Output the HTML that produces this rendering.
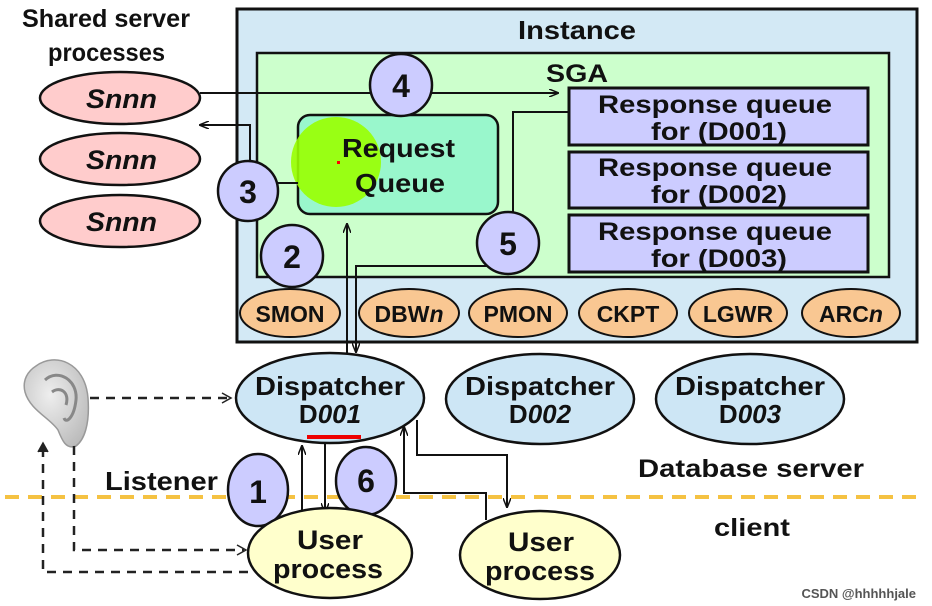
<!DOCTYPE html>
<html><head><meta charset="utf-8"><style>
html,body{margin:0;padding:0;background:#fff}
svg{display:block}
text{font-family:"Liberation Sans",Arial,sans-serif;font-weight:bold;fill:#111}
</style></head><body>
<svg width="932" height="606" viewBox="0 0 932 606" xmlns="http://www.w3.org/2000/svg">
<defs>
<marker id="a" markerWidth="10" markerHeight="8" refX="9" refY="4" orient="auto" markerUnits="userSpaceOnUse"><path d="M0,0 L10,4 L0,8" fill="none" stroke="#111" stroke-width="1.5"/></marker>
<radialGradient id="eg" cx="0.4" cy="0.4" r="0.7"><stop offset="0" stop-color="#eee"/><stop offset="1" stop-color="#bbb"/></radialGradient>
</defs>
<rect x="0" y="0" width="932" height="606" fill="#fff"/>
<!-- Instance -->
<rect x="237" y="9" width="680" height="333" fill="#d3e9f5" stroke="#111" stroke-width="3"/>
<text x="518" y="39" font-size="26" textLength="118" lengthAdjust="spacingAndGlyphs">Instance</text>
<rect x="257" y="53" width="632" height="224" fill="#ccffcc" stroke="#111" stroke-width="2.5"/>
<text x="546" y="82" font-size="25" textLength="62" lengthAdjust="spacingAndGlyphs">SGA</text>
<!-- response queues -->
<g font-size="25">
<rect x="569" y="88" width="299" height="57" fill="#ccccff" stroke="#111" stroke-width="3"/>
<text x="598" y="113" textLength="234" lengthAdjust="spacingAndGlyphs">Response queue</text><text x="651" y="140" textLength="136" lengthAdjust="spacingAndGlyphs">for (D001)</text>
<rect x="569" y="152" width="299" height="56" fill="#ccccff" stroke="#111" stroke-width="3"/>
<text x="598" y="176" textLength="234" lengthAdjust="spacingAndGlyphs">Response queue</text><text x="651" y="203" textLength="136" lengthAdjust="spacingAndGlyphs">for (D002)</text>
<rect x="569" y="215" width="299" height="57" fill="#ccccff" stroke="#111" stroke-width="3"/>
<text x="598" y="240" textLength="234" lengthAdjust="spacingAndGlyphs">Response queue</text><text x="651" y="267" textLength="136" lengthAdjust="spacingAndGlyphs">for (D003)</text>
</g>
<!-- request queue -->
<rect x="298" y="115" width="200" height="99" rx="12" fill="#99f7cc" stroke="#111" stroke-width="2.5"/>
<circle cx="336" cy="162" r="45" fill="#99ff00" opacity="0.9"/>
<rect x="337" y="161" width="3" height="3" fill="red"/>
<text x="342" y="157" font-size="26" textLength="113" lengthAdjust="spacingAndGlyphs">Request</text>
<text x="355" y="192" font-size="26" textLength="90" lengthAdjust="spacingAndGlyphs">Queue</text>
<!-- lines -->
<g stroke="#111" stroke-width="2" fill="none">
<path d="M200,93 H558" marker-end="url(#a)"/>
<path d="M250,162 V125 H200" marker-end="url(#a)"/>
<path d="M278,183 H298"/>
<path d="M569,112 H513 V215"/>
<path d="M508,266 H356 V352" marker-end="url(#a)"/>
<path d="M347,355 V224" marker-end="url(#a)"/>
</g>
<!-- dashed separator -->
<line x1="5" y1="497" x2="925" y2="497" stroke="#f5c242" stroke-width="4" stroke-dasharray="14,9"/>
<g stroke="#111" stroke-width="2" fill="none">
<path d="M302,512 V446" marker-end="url(#a)"/>
<path d="M325,443 V512" marker-end="url(#a)"/>
<path d="M486,520 V493 H404 V427" marker-end="url(#a)"/>
<path d="M417,420 V455 H507 V507" marker-end="url(#a)"/>
</g>
<!-- number circles -->
<g fill="#ccccff" stroke="#111" stroke-width="2.5">
<circle cx="401" cy="85" r="31"/>
<circle cx="248" cy="191" r="30"/>
<circle cx="292" cy="256" r="31"/>
<circle cx="508" cy="243" r="31"/>
<ellipse cx="258" cy="490" rx="30" ry="36"/>
<ellipse cx="366" cy="481" rx="30" ry="34"/>
</g>
<g font-size="32" text-anchor="middle">
<text x="401" y="97">4</text><text x="248" y="203">3</text><text x="292" y="268">2</text>
<text x="508" y="255">5</text><text x="258" y="503">1</text><text x="366" y="492">6</text>
</g>
<!-- background procs -->
<g fill="#f9c792" stroke="#111" stroke-width="2">
<ellipse cx="290" cy="313" rx="50" ry="24"/>
<ellipse cx="409" cy="313" rx="50" ry="24"/>
<ellipse cx="518" cy="313" rx="49" ry="24"/>
<ellipse cx="628" cy="313" rx="49" ry="24"/>
<ellipse cx="738" cy="313" rx="49" ry="24"/>
<ellipse cx="851" cy="313" rx="49" ry="24"/>
</g>
<g font-size="23" text-anchor="middle">
<text x="290" y="322">SMON</text>
<text x="409" y="322">DBW<tspan font-style="italic">n</tspan></text>
<text x="518" y="322">PMON</text><text x="628" y="322">CKPT</text><text x="738" y="322">LGWR</text>
<text x="851" y="322">ARC<tspan font-style="italic">n</tspan></text>
</g>
<!-- Snnn -->
<text x="22" y="27" font-size="25" textLength="168" lengthAdjust="spacingAndGlyphs">Shared server</text>
<text x="48" y="61" font-size="25" textLength="117" lengthAdjust="spacingAndGlyphs">processes</text>
<g fill="#ffcccc" stroke="#111" stroke-width="2.5">
<ellipse cx="120" cy="98" rx="80" ry="26"/>
<ellipse cx="120" cy="159" rx="80" ry="26"/>
<ellipse cx="120" cy="221" rx="80" ry="26"/>
</g>
<g font-size="27" font-style="italic">
<text x="86" y="108" textLength="71" lengthAdjust="spacingAndGlyphs">Snnn</text>
<text x="86" y="169" textLength="71" lengthAdjust="spacingAndGlyphs">Snnn</text>
<text x="86" y="231" textLength="71" lengthAdjust="spacingAndGlyphs">Snnn</text>
</g>
<!-- dispatchers -->
<g fill="#cde6f5" stroke="#111" stroke-width="2.5">
<ellipse cx="330" cy="398" rx="94" ry="45"/>
<ellipse cx="540" cy="399" rx="94" ry="45"/>
<ellipse cx="750" cy="399" rx="94" ry="45"/>
</g>
<g font-size="26">
<text x="255" y="395" textLength="150" lengthAdjust="spacingAndGlyphs">Dispatcher</text>
<text x="465" y="395" textLength="150" lengthAdjust="spacingAndGlyphs">Dispatcher</text>
<text x="675" y="395" textLength="150" lengthAdjust="spacingAndGlyphs">Dispatcher</text>
</g>
<g font-size="26" text-anchor="middle">
<text x="330" y="423">D<tspan font-style="italic">001</tspan></text>
<text x="540" y="423">D<tspan font-style="italic">002</tspan></text>
<text x="750" y="423">D<tspan font-style="italic">003</tspan></text>
</g>
<rect x="307" y="435" width="54" height="4" fill="#e00"/>
<!-- user processes -->
<g fill="#ffffcc" stroke="#111" stroke-width="2.5">
<ellipse cx="330" cy="553" rx="82" ry="45"/>
<ellipse cx="540" cy="555" rx="80" ry="44"/>
</g>
<g font-size="27">
<text x="297" y="549" textLength="66" lengthAdjust="spacingAndGlyphs">User</text>
<text x="273" y="578" textLength="110" lengthAdjust="spacingAndGlyphs">process</text>
<text x="508" y="551" textLength="66" lengthAdjust="spacingAndGlyphs">User</text>
<text x="485" y="580" textLength="110" lengthAdjust="spacingAndGlyphs">process</text>
</g>
<text x="105" y="490" font-size="26" textLength="113" lengthAdjust="spacingAndGlyphs">Listener</text>
<text x="638" y="477" font-size="25" textLength="226" lengthAdjust="spacingAndGlyphs">Database server</text>
<text x="714" y="536" font-size="25" textLength="76" lengthAdjust="spacingAndGlyphs">client</text>
<text x="916" y="598" font-size="13" font-weight="normal" text-anchor="end" style="fill:#555">CSDN @hhhhhjale</text>
<!-- ear -->
<path d="M36,366 C55,352 85,362 88,398 C90,425 84,440 76,446 C66,450 62,440 58,430 C50,418 30,410 25,392 C22,380 28,371 36,366 Z" fill="url(#eg)" stroke="#999" stroke-width="1.5"/>
<path d="M45,380 C58,368 78,380 76,400 C74,418 66,424 64,418 M52,392 C60,386 70,392 66,405" fill="none" stroke="#888" stroke-width="3"/>
<!-- dashed ear lines -->
<g stroke="#222" stroke-width="2.5" fill="none" stroke-dasharray="9,7">
<path d="M90,398 H229"/>
<path d="M74,446 V550 H244"/>
<path d="M248,572 H43 V446"/>
</g>
<path d="M222,393 L231,398 L222,403" fill="none" stroke="#222" stroke-width="1.5"/>
<path d="M237,545 L246,550 L237,555" fill="none" stroke="#222" stroke-width="1.5"/>
<path d="M38,452 L43,443 L48,452" fill="#222" stroke="#222" stroke-width="1.5"/>
</svg>
</body></html>
